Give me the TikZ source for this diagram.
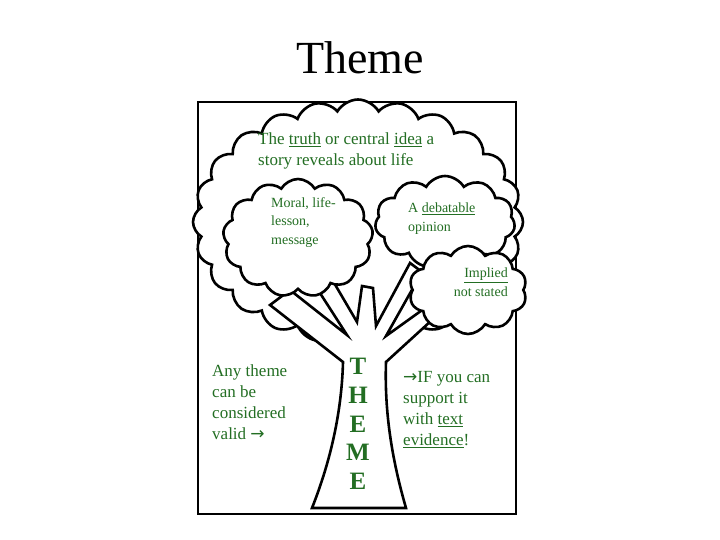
\documentclass[tikz,border=0pt]{standalone}
\usepackage{fontspec}
\setmainfont{Liberation Serif}
\newfontfamily\arrowfont{DejaVu Sans}
\usetikzlibrary{shapes.symbols}
\definecolor{tg}{RGB}{35,110,35}
\newcommand{\ra}{{\arrowfont\char"2192}}
\begin{document}
\begin{tikzpicture}[x=1pt,y=-1pt,
  cl/.style={cloud,draw,fill=white,line width=2.6pt,cloud puffs=#1,cloud puff arc=120,inner sep=0pt},
  tx/.style={text=tg,align=left,anchor=north west,inner sep=0pt,font=\fontsize{17}{21}\selectfont},
  sm/.style={text=tg,align=left,anchor=north west,inner sep=0pt,font=\fontsize{14}{18.5}\selectfont}]
\useasboundingbox (0,0) rectangle (720,540);
\node (title) at (360,58) {\fontsize{46}{50}\selectfont Theme};
\draw[line width=2.5pt] (198,102) rectangle (516,514);
\node[cl=24,minimum width=330,minimum height=245] (canopy) at (358,222) {};
\draw[line width=2.6pt,fill=white] (312,508) .. controls (335,450) and (342,400) .. (343,362) -- (270,305) -- (290,290) -- (347,335) -- (300,262) -- (316,252) -- (357,322) -- (362,286) -- (373,288) -- (376,326) -- (410,263) -- (422,272) -- (386,336) -- (425,308) -- (432,320) -- (386,362) .. controls (384,420) and (395,470) .. (406,508) -- cycle;
\node[cl=13,minimum width=150,minimum height=118] (lc) at (298,238) {};
\node[cl=11,minimum width=140,minimum height=92] (rc) at (445,222) {};
\node[cl=10,minimum width=118,minimum height=88] (bc) at (468,290) {};
\node[tx] (t1) at (258,133) {The \underline{truth} or central \underline{idea} a\\story reveals about life};
\node[sm] (t2) at (271,197) {Moral, life-\\lesson,\\message};
\node[sm] (t3) at (408,203) {A \underline{debatable}\\opinion};
\node[sm,align=right,anchor=north east] (t4) at (508,268) {\underline{Implied}\\not stated};
\node[tx] (t5) at (212,365) {Any theme\\can be\\considered\\valid \ra};
\node[text=tg,font=\fontsize{25}{28.8}\selectfont\bfseries,align=center] (t6) at (358,424) {T\\H\\E\\M\\E};
\node[tx] (t7) at (403,371) {\ra IF you can\\support it\\with \underline{text}\\\underline{evidence}!};
\end{tikzpicture}
\end{document}
